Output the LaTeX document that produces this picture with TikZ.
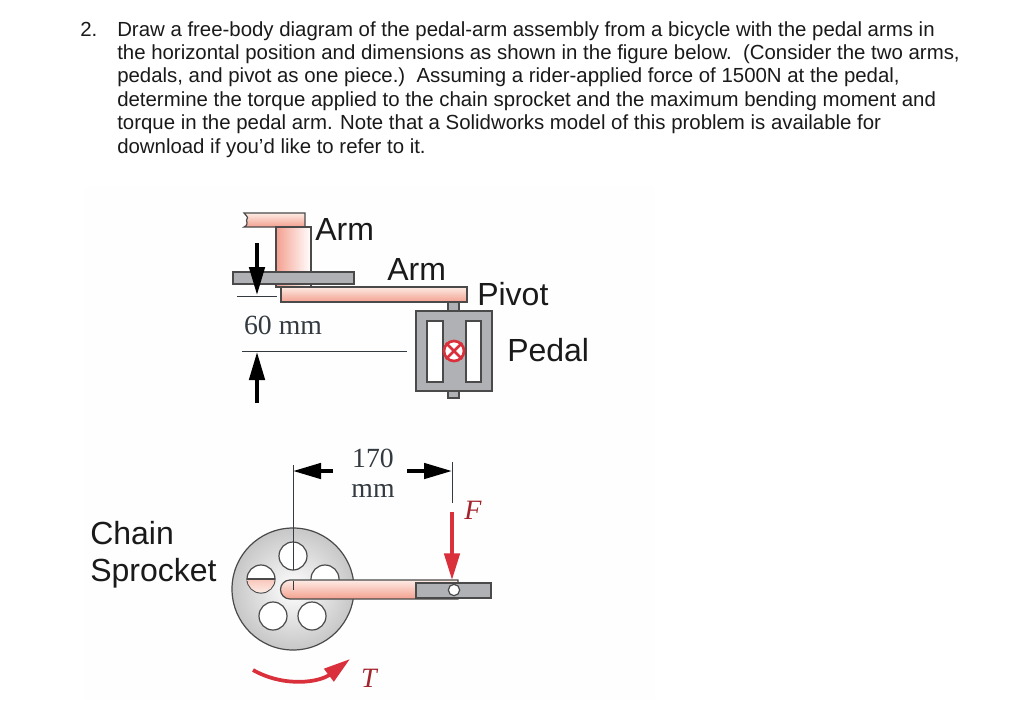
\documentclass[tikz,border=0pt]{standalone}
\usepackage{fontspec}
\setmainfont{Liberation Sans}
\newfontfamily\timesf{Liberation Serif}
\usetikzlibrary{arrows.meta}
\definecolor{armpink}{HTML}{F4A08F}
\definecolor{armpale}{HTML}{FDEBE4}
\definecolor{redc}{HTML}{D9303C}
\definecolor{grayc}{HTML}{B0B1B5}
\definecolor{edgec}{HTML}{4A4A4A}
\definecolor{inkc}{HTML}{1A1A1A}
\definecolor{dimc}{HTML}{333A40}
\tikzset{
  x=0.75pt,y=-0.75pt,
  para/.style={anchor=base west,inner sep=0,font=\fontsize{15.3pt}{17pt}\selectfont,text=inkc},
  lab/.style={anchor=base west,inner sep=0,font=\fontsize{24pt}{28pt}\selectfont,text=inkc},
  dimt/.style={anchor=base,inner sep=0,font=\timesf\fontsize{20.8pt}{24pt}\selectfont,text=dimc},
  forcet/.style={anchor=base,inner sep=0,font=\timesf\itshape\fontsize{21pt}{24pt}\selectfont,text=redc!75!black},
  outl/.style={draw=edgec,line width=0.9pt},
  graybox/.style={outl,fill=grayc},
  hole/.style={outl,fill=white},
  thin line/.style={draw=dimc,line width=0.75pt},
  dimarrow/.style={draw=black,line width=2.8pt,-{Triangle[length=21pt,width=11.5pt]}},
  redarrow/.style={draw=redc,line width=2.8pt,-{Triangle[length=20pt,width=11.5pt]}},
}
\begin{document}
\begin{tikzpicture}
\useasboundingbox (0,0) rectangle (1024,700);
\fill[white] (0,0) rectangle (1024,700);
\fill[black!0.5] (84,186) rectangle (655,700);

% text block
\node[para] (n2) at (80,36) {2.};
\node[para] (l1) at (117,36) {Draw a free-body diagram of the pedal-arm assembly from a bicycle with the pedal arms in};
\node[para] (l2) at (117,59) {the horizontal position and dimensions as shown in the figure below.\ \ (Consider the two arms,};
\node[para] (l3) at (117,82.5) {pedals, and pivot as one piece.)\ \ Assuming a rider-applied force of 1500N at the pedal,};
\node[para] (l4) at (117,106) {determine the torque applied to the chain sprocket and the maximum bending moment and};
\node[para] (l5) at (117,129) {torque in the pedal arm. Note that a Solidworks model of this problem is available for};
\node[para] (l6) at (117,153) {download if you’d like to refer to it.};

% top view
\shade[top color=armpale,bottom color=armpink,draw=edgec,line width=0.9pt]
  (244,213) -- (305,213) -- (305,227) -- (244,227) .. controls (250,224) and (245,221) .. (247,219) .. controls (249,217) and (245,215) .. (244,213) -- cycle;
\shade[left color=armpink,right color=white,draw=edgec,line width=0.9pt] (276,227) rectangle (311,287);
\draw[graybox] (233,272) rectangle (354,284);
\shade[top color=armpale,bottom color=armpink,draw=edgec,line width=0.9pt] (281,287) rectangle (467,302);
\draw[graybox] (448,302) rectangle (459,311);
\draw[graybox] (448,391) rectangle (459,398);
\draw[graybox] (416,311) rectangle (492,391);
\draw[hole] (427,321) rectangle (443,382);
\draw[hole] (466,321) rectangle (481,382);
\node[circle,draw=redc,line width=2pt,fill=white,minimum size=15pt,inner sep=0] (cross) at (454,351) {};
\draw[redc,line width=2pt] (cross.north west) -- (cross.south east) (cross.north east) -- (cross.south west);

\coordinate (a1s) at (257,243); \coordinate (a1e) at (257,295);
\coordinate (a2s) at (257,403); \coordinate (a2e) at (257,352);
\coordinate (e1s) at (237,296); \coordinate (e1e) at (277,296);
\coordinate (e2s) at (242,351); \coordinate (e2e) at (407,351);
\draw[dimarrow] (a1s) -- (a1e);
\draw[dimarrow] (a2s) -- (a2e);
\draw[thin line] (e1s) -- (e1e);
\draw[thin line] (e2s) -- (e2e);

\node[dimt] (d60) at (283,334) {60 mm};
\node[lab] (arm1) at (315,240) {Arm};
\node[lab] (arm2) at (387,280) {Arm};
\node[lab] (pivot) at (477,305) {Pivot};
\node[lab] (pedal) at (507,361) {Pedal};
\node[lab] (chain) at (90,544) {Chain};
\node[lab] (sprk) at (90,581) {Sprocket};

% sprocket view
\shade[inner color=white,outer color=black!22,draw=edgec,line width=0.9pt] (293,589) circle (61);
\draw[hole] (293,556) circle (14);
\draw[hole] (261,579) circle (14);
\begin{scope}
  \clip (247,579) rectangle (275,594);
  \shade[top color=armpink,bottom color=armpale] (261,579) circle (13.5);
\end{scope}
\draw[edgec,line width=0.9pt] (247,579) -- (275,579);
\draw[hole] (325,579) circle (14);
\draw[hole] (273,616) circle (14);
\draw[hole] (312,616) circle (14);
\shade[top color=armpale,bottom color=armpink,draw=edgec,line width=0.9pt]
  (290,580) -- (458,580) -- (458,599) -- (290,599) arc[start angle=90,end angle=270,radius=9.5] -- cycle;
\draw[graybox] (416,583) rectangle (491,598);
\node[circle,draw=edgec,line width=0.9pt,fill=white,minimum size=8.5pt,inner sep=0] (pin) at (454,590) {};

\coordinate (v1s) at (293,465); \coordinate (v1e) at (293,570);
\coordinate (v2s) at (452,462); \coordinate (v2e) at (452,503);
\coordinate (v3s) at (293,581); \coordinate (v3e) at (293,590);
\draw[thin line] (v1s) -- (v1e);
\draw[thin line] (v3s) -- (v3e);
\draw[thin line] (v2s) -- (v2e);
\coordinate (da1s) at (333,471); \coordinate (da1e) at (293,471);
\coordinate (da2s) at (407,471); \coordinate (da2e) at (452,471);
\draw[dimarrow] (da1s) -- (da1e);
\draw[dimarrow] (da2s) -- (da2e);
\node[dimt] (d170) at (373,467) {170};
\node[dimt] (dmm) at (373,497) {mm};

\coordinate (fs) at (452,512); \coordinate (fe) at (452,580);
\draw[redarrow] (fs) -- (fe);
\node[forcet] (f) at (473,519) {F};
\coordinate (ts) at (253,670); \coordinate (te) at (350,659);
\draw[redarrow] (ts) .. controls (285,688) and (320,682) .. (te);
\node[forcet] (t) at (369,687) {T};
\end{tikzpicture}
\end{document}
